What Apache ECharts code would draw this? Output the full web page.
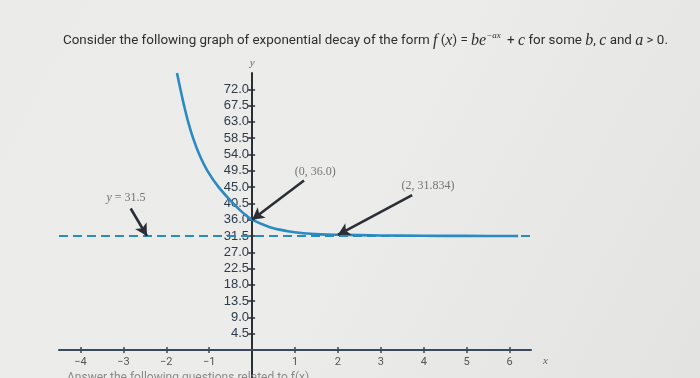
<!DOCTYPE html>
<html>
<head>
<meta charset="utf-8">
<script src="https://cdn.jsdelivr.net/npm/echarts@6.0.0/dist/echarts.min.js"></script>
<style>
html,body{margin:0;padding:0;background:#e8e8e6;}
#c{width:700px;height:378px;}
</style>
</head>
<body>
<div id="c"></div>
<script>
// ---- data ----
const curveX = [-1.75, -1.67, -1.585, -1.49, -1.375, -1.23, -1.04, -0.78, -0.44, -0.2, 0, 0.4, 0.8, 1.2, 1.6, 2, 3, 4, 5, 6.2];
const curveY = [76.5, 72, 67.5, 63, 58.5, 54, 49.5, 45, 40.5, 37.75, 36, 34.0, 32.9, 32.25, 31.95, 31.834, 31.65, 31.57, 31.53, 31.5];
const asymptoteY = 31.5;
const asymptoteX = [-4.5, 6.5];
const xTicks = [-4, -3, -2, -1, 1, 2, 3, 4, 5, 6];
const yTicks = [4.5, 9.0, 13.5, 18.0, 22.5, 27.0, 31.5, 36.0, 40.5, 45.0, 49.5, 54.0, 58.5, 63.0, 67.5, 72.0];
const annoLabels = ['{i|y} = 31.5', '(0, 36.0)', '(2, 31.834)'];
const annoLabelPos = [[-2.94, 42], [1.47, 49.2], [4.1, 45.3]];
const arrowFrom = [[-2.83, 39.1], [1.21, 46.8], [3.73, 42.8]];
const arrowTo = [[-2.45, 31.5], [0, 36.0], [2, 31.834]];
const headingParts = [
  ['t', 'Consider the following graph of exponential decay of the form '],
  ['m', 'f'], ['t', ' ('], ['m', 'x'], ['t', ') = '], ['m', 'b'], ['m', 'e'], ['s', '−ax'],
  ['t', ' + '], ['m', 'c'], ['t', ' for some '], ['m', 'b'], ['t', ', '], ['m', 'c'],
  ['t', ' and '], ['m', 'a'], ['t', ' > 0.']
];
const footerText = 'Answer the following questions related to f(x).';

// ---- layout ----
const W = 700, H = 378;
const gridLeft = 59, gridRight = 169, gridTop = 73, gridBottom = 0;
const xMin = -4.5, xMax = 6.5, yMin = -7.7, yMax = 76.5;
const plotW = W - gridLeft - gridRight, plotH = H - gridTop - gridBottom;
const yAxisOffset = -((0 - xMin) / (xMax - xMin)) * plotW;   // move y axis onto x = 0
const xAxisOffset = -((0 - yMin) / (yMax - yMin)) * plotH;   // move x axis onto y = 0

const chart = echarts.init(document.getElementById('c'), null, {renderer: 'canvas'});
const blue = '#2a8ac2';
const ink = '#2a2f36';
const xInk = '#3a4a5a';
const serif = '"Liberation Serif", "DejaVu Serif", serif';
const sans = 'Roboto, "Liberation Sans", sans-serif';

const headingText = headingParts.map(p => '{' + p[0] + '|' + p[1] + '}').join('');

const option = {
  backgroundColor: {
    type: 'linear', x: 0, y: 0, x2: 1, y2: 1,
    colorStops: [{offset: 0, color: '#ebebea'}, {offset: 0.5, color: '#ececeb'}, {offset: 1, color: '#e3e3e1'}]
  },
  animation: false,
  title: [{
    text: headingText,
    left: 63, top: 31, padding: 0,
    textStyle: {
      fontWeight: 'normal',
      rich: {
        t: {fontFamily: sans, fontSize: 13.4, fontWeight: 'normal', color: '#2e2e2e'},
        m: {fontFamily: serif, fontStyle: 'italic', fontWeight: 'normal', fontSize: 16, color: '#2e2e2e'},
        s: {fontFamily: serif, fontStyle: 'italic', fontWeight: 'normal', fontSize: 9, color: '#2e2e2e', verticalAlign: 'top', padding: [0, 3, 10, 0]}
      }
    }
  }, {
    text: footerText,
    left: 62, top: 367,
    textStyle: {fontFamily: sans, fontSize: 12, fontWeight: 'normal', color: '#8a8a8a'}
  }],
  grid: {left: gridLeft, right: gridRight, top: gridTop, bottom: gridBottom, containLabel: false, outerBoundsMode: 'none'},
  xAxis: [{
    type: 'value', min: xMin, max: xMax, position: 'bottom', offset: xAxisOffset,
    name: 'x', nameLocation: 'end', nameGap: 12,
    nameTextStyle: {fontFamily: serif, fontStyle: 'italic', fontSize: 11, color: '#666', verticalAlign: 'top', padding: [6, 0, 0, 0]},
    axisLine: {onZero: false, lineStyle: {color: xInk, width: 2}},
    axisTick: {show: true, length: 3, customValues: xTicks, lineStyle: {color: xInk, width: 1.5}},
    axisLabel: {customValues: xTicks, margin: 7, fontFamily: sans, fontSize: 11, color: '#555',
      formatter: v => (v < 0 ? '−' + Math.abs(v) : String(v))},
    splitLine: {show: false}
  }, {
    type: 'value', min: xMin, max: xMax, position: 'bottom', offset: xAxisOffset,
    axisLine: {show: false},
    axisTick: {show: true, inside: true, length: 3, customValues: xTicks, lineStyle: {color: xInk, width: 1.5}},
    axisLabel: {show: false}, splitLine: {show: false}
  }],
  yAxis: [{
    type: 'value', min: yMin, max: yMax, position: 'left', offset: yAxisOffset,
    name: 'y', nameLocation: 'end', nameGap: 4,
    nameTextStyle: {fontFamily: serif, fontStyle: 'italic', fontSize: 11, color: '#666'},
    axisLine: {onZero: false, lineStyle: {color: ink, width: 2}},
    axisTick: {show: true, length: 4, customValues: yTicks, lineStyle: {color: ink, width: 1.5}},
    axisLabel: {customValues: yTicks, margin: 3, fontFamily: '"Liberation Sans", Arial, sans-serif', fontSize: 13, color: '#2e3b4a',
      formatter: v => v.toFixed(1)},
    splitLine: {show: false}
  }, {
    type: 'value', min: yMin, max: yMax, position: 'left', offset: yAxisOffset,
    axisLine: {show: false},
    axisTick: {show: true, inside: true, length: 3, customValues: yTicks, lineStyle: {color: ink, width: 1.5}},
    axisLabel: {show: false}, splitLine: {show: false}
  }],
  series: [
    {
      type: 'line', name: 'asymptote',
      data: asymptoteX.map(x => [x, asymptoteY]),
      showSymbol: false, silent: true,
      lineStyle: {color: blue, width: 2.2, type: [9, 5]},
      z: 3
    },
    {
      type: 'line', name: 'f',
      data: curveX.map((x, i) => [x, curveY[i]]),
      smooth: 0.35, showSymbol: false, silent: true,
      lineStyle: {color: blue, width: 2.6},
      z: 4,
      markLine: {
        silent: true, animation: false,
        symbol: ['none', 'arrow'], symbolSize: [10, 12],
        label: {show: false},
        lineStyle: {color: ink, width: 2.6, type: 'solid'},
        data: arrowFrom.map((f, i) => [{coord: f}, {coord: arrowTo[i]}])
      }
    },
    {
      type: 'scatter', name: 'labels',
      data: annoLabelPos.map((p, i) => ({value: p, label: {formatter: annoLabels[i]}})),
      symbolSize: 0, silent: true,
      label: {
        show: true, position: 'inside',
        fontFamily: serif, fontSize: 12, color: '#555',
        rich: {i: {fontFamily: serif, fontStyle: 'italic', fontSize: 12, color: '#555'}}
      },
      z: 5
    }
  ]
};
chart.setOption(option);
</script>
</body>
</html>
